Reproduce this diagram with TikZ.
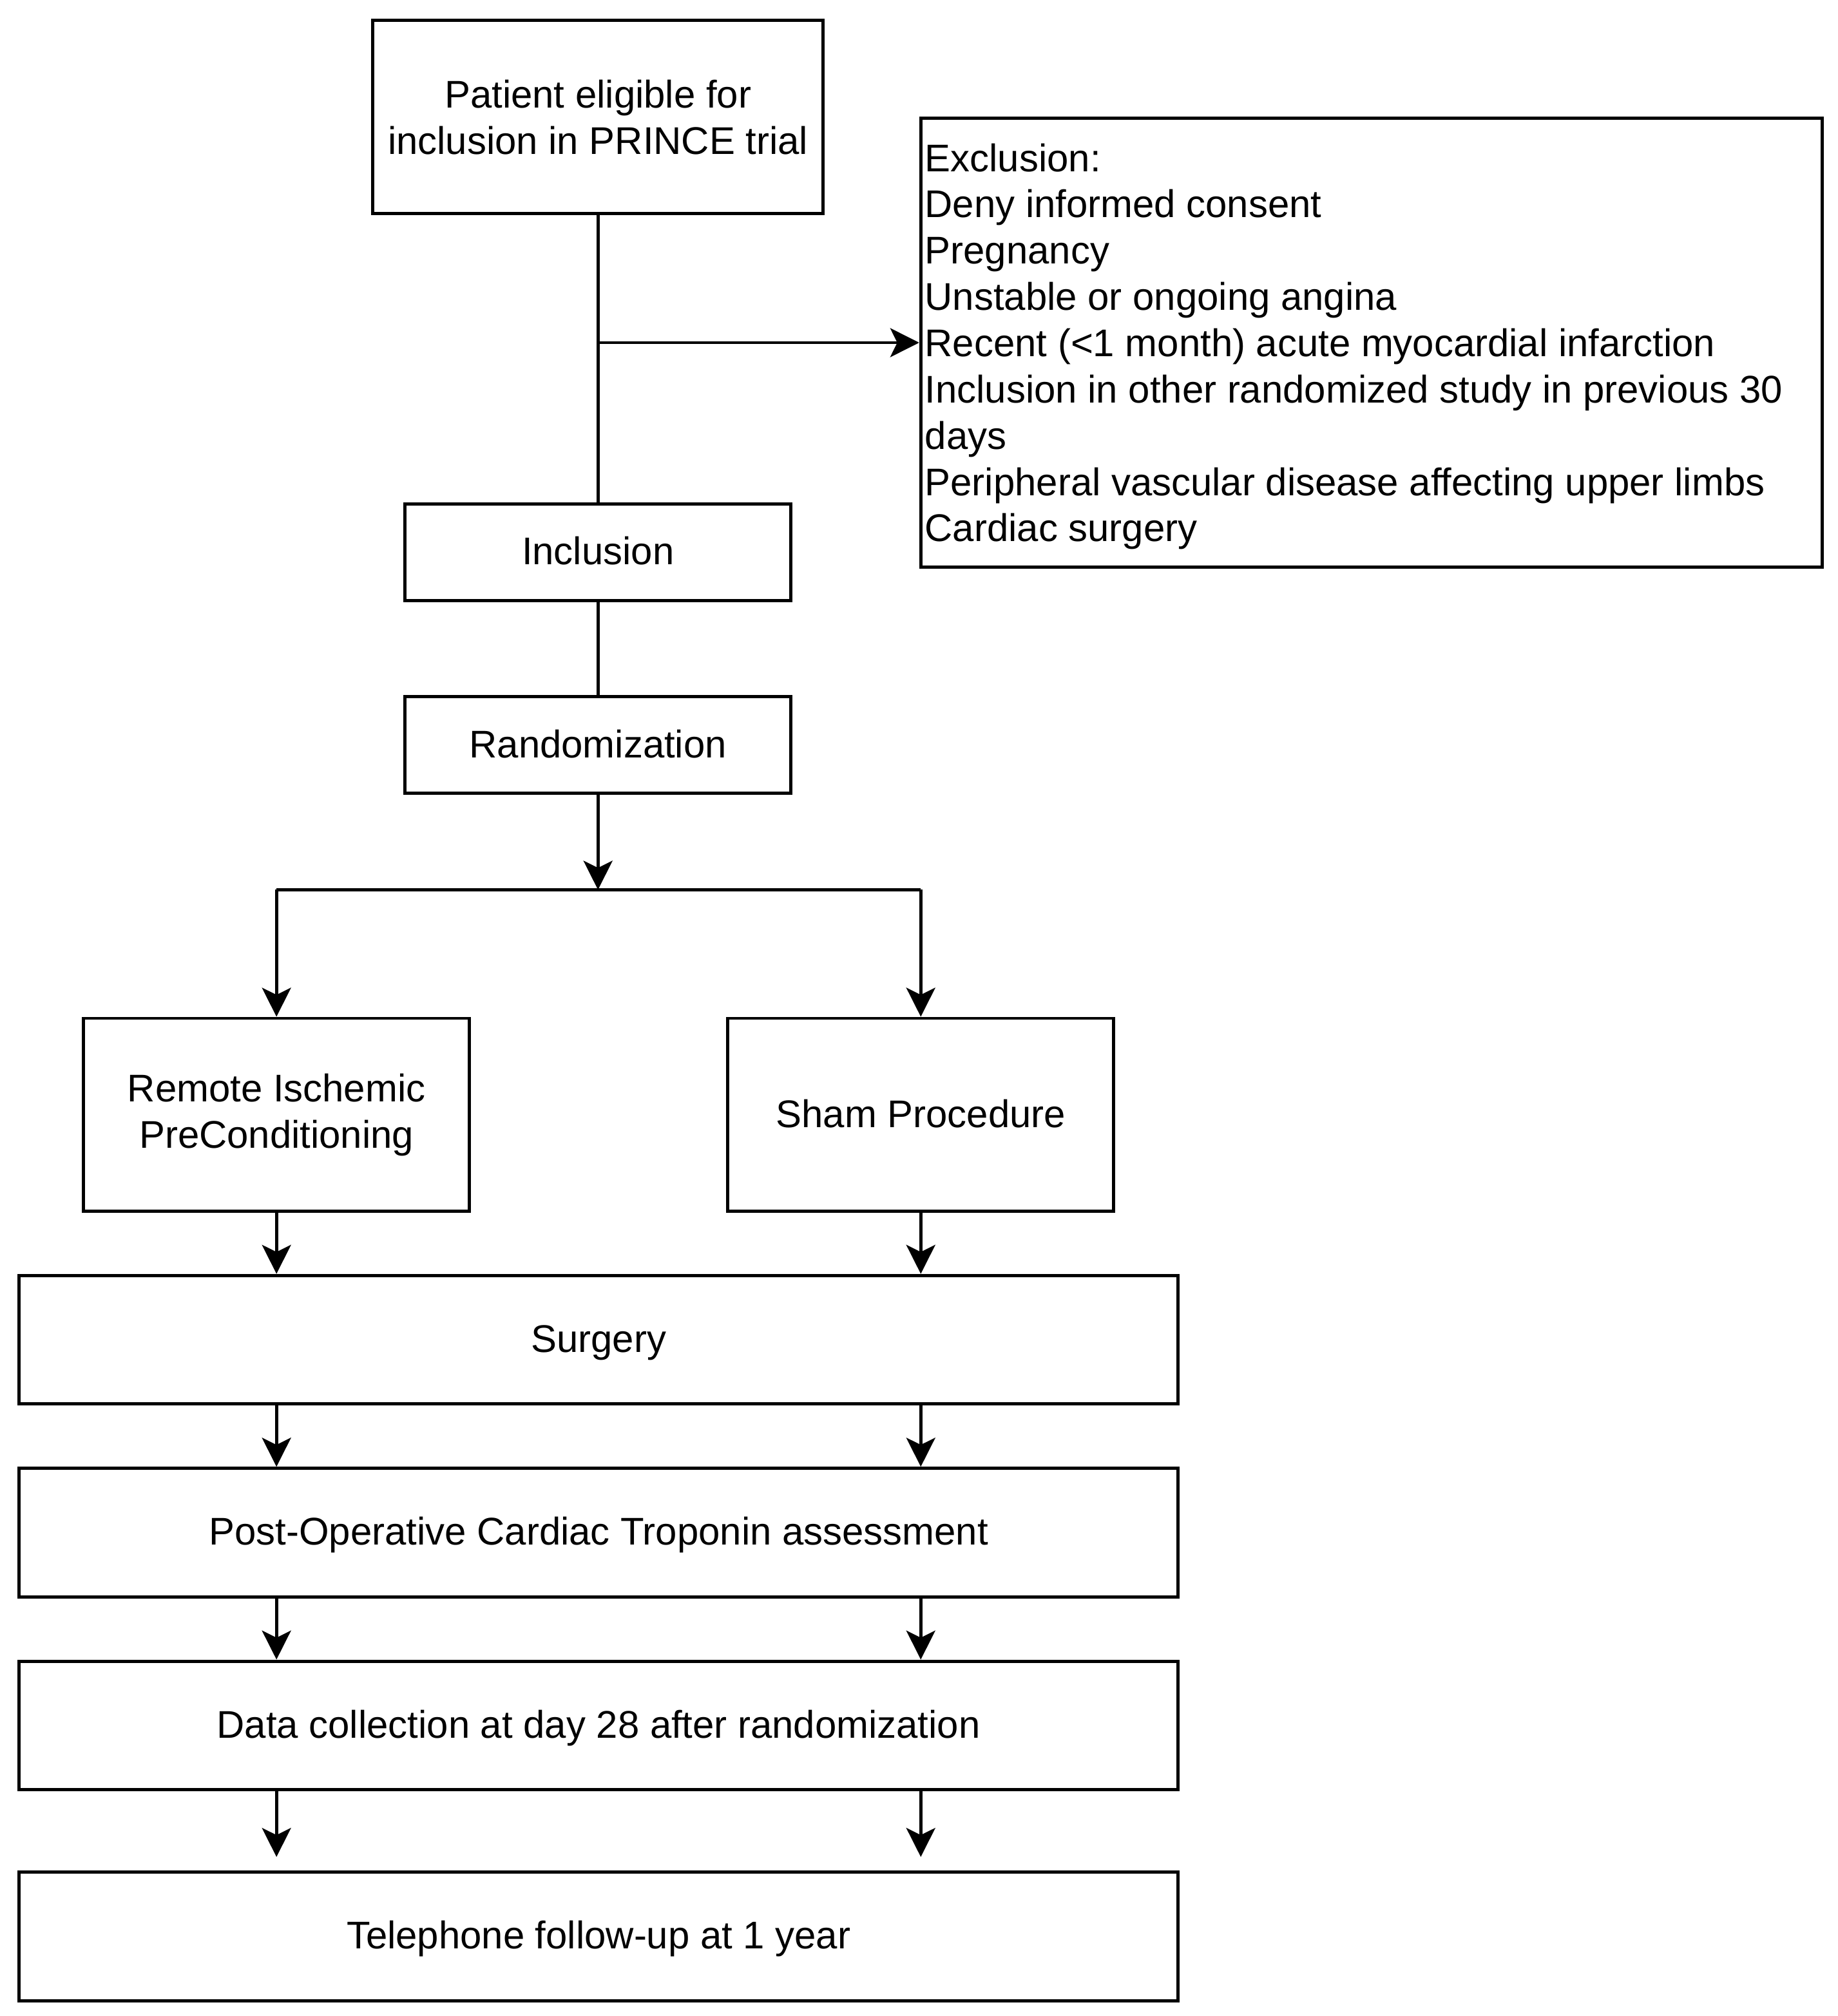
\documentclass[tikz,border=0pt]{standalone}
\usepackage{fontspec}
\setmainfont{Liberation Sans}
\usetikzlibrary{arrows.meta,positioning,calc}

\begin{document}
\begin{tikzpicture}[
    x=1pt, y=-1pt,
    font=\fontsize{12pt}{14.4pt}\selectfont,
    box/.style={draw, line width=1pt, minimum width=120pt, minimum height=30pt, align=center, inner sep=0pt},
    onebox/.style={box, text height=8.8pt, text depth=1pt},
    widebox/.style={onebox, minimum width=360.4pt, minimum height=40pt},
    ln/.style={line width=1pt},
    arr/.style={-{Stealth[length=9pt, width=9pt, inset=2.2pt]}, line width=1pt}
]
\useasboundingbox (0,0) rectangle (571.6,627.2);

\node[box, minimum width=140pt, minimum height=60pt] (elig) at (186,36.4) {Patient eligible for\\inclusion in PRINCE trial};
\node[draw, line width=1pt, minimum width=280.4pt, minimum height=139.6pt] (excl) at (426.6,106.6) {};
\node[anchor=west, align=left, inner sep=0pt] (excltxt) at ($(excl.west)+(1.6,1.2)$) {Exclusion:\\Deny informed consent\\Pregnancy\\Unstable or ongoing angina\\Recent (<1 month) acute myocardial infarction\\Inclusion in other randomized study in previous 30\\days\\Peripheral vascular disease affecting upper limbs\\Cardiac surgery};

\node[onebox] (incl) at (186,171.8) {Inclusion};
\node[onebox] (rand) at (186,231.8) {Randomization};
\node[box, minimum height=60pt] (ripc) at (86,346.8) {Remote Ischemic\\PreConditioning};
\node[onebox, minimum height=60pt] (sham) at (286.4,346.8) {Sham Procedure};
\node[widebox] (surg) at (186.2,416.8) {Surgery};
\node[widebox] (trop) at (186.2,476.8) {Post-Operative Cardiac Troponin assessment};
\node[widebox] (data) at (186.2,536.8) {Data collection at day 28 after randomization};
\node[widebox] (tel) at (186.2,602.4) {Telephone follow-up at 1 year};

\coordinate (br) at (186,106.6);
\coordinate (split) at (186,276.8);
\coordinate (splitL) at (86,276.8);
\coordinate (splitR) at (286.4,276.8);

% screening
\draw[ln] (elig) -- (incl);
\draw[arr] (br) -- (excl.west);
\draw[ln] (incl) -- (rand);

% allocation
\draw[arr] (rand) -- (split);
\draw[ln] (splitL) -- (splitR);
\draw[arr] (splitL) -- (ripc);
\draw[arr] (splitR) -- (sham);

% follow both arms down
\foreach \arm in {ripc, sham} {
  \draw[arr] (\arm.south) -- (\arm.south |- surg.north);
  \draw[arr] (surg.south -| \arm) -- (trop.north -| \arm);
  \draw[arr] (trop.south -| \arm) -- (data.north -| \arm);
  \draw[arr] (data.south -| \arm) -- ++(0,20.4);
}
\end{tikzpicture}
\end{document}
